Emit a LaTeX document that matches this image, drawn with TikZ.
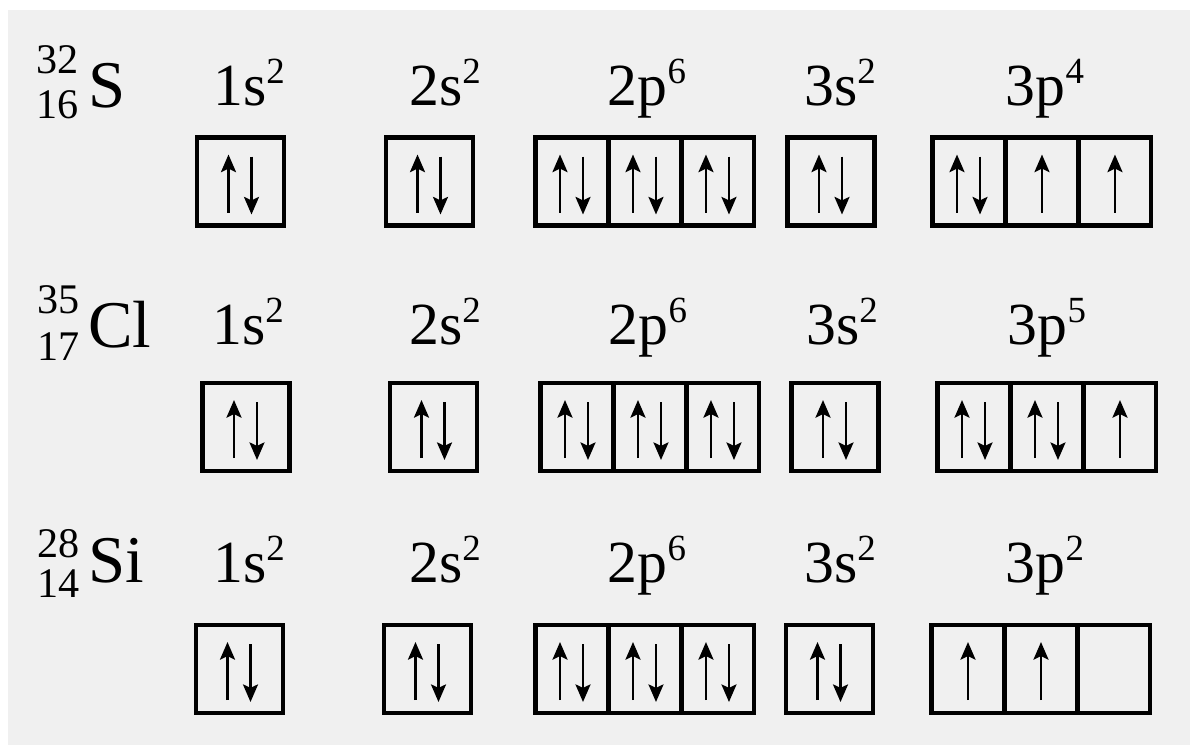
\documentclass[tikz,border=0pt]{standalone}
\usepackage{fontspec}
\setmainfont{Liberation Serif}
\usetikzlibrary{arrows.meta,positioning}

\definecolor{paper}{HTML}{F0F0F0}

\newcommand{\orb}[2]{#1\raisebox{12pt}{\fontsize{21}{21}\selectfont #2}}
\newcommand{\spinpair}[1]{\draw[spin] ([shift={(-12,31)}]#1.center) -- ++(0,-58);
  \draw[spin] ([shift={(11,-25)}]#1.center) -- ++(0,58);}
\newcommand{\spinup}[1]{\draw[spin] ([shift={(0,31)}]#1.center) -- ++(0,-58);}

\tikzset{
  cell/.style={draw, line width=2.3pt, minimum width=1.74cm, minimum height=1.76cm, inner sep=0pt, outer sep=0pt},
  pcell/.style={cell, minimum width=1.46cm},
  spin/.style={line width=1.6pt, -{Stealth[length=10pt,width=8.5pt,inset=2pt]}},
  orbital/.style={font=\fontsize{34}{38}\selectfont, anchor=base, inner sep=0pt},
  nuclide/.style={font=\fontsize{24}{28}\selectfont, anchor=base west, inner sep=0pt},
  element/.style={font=\fontsize{38}{42}\selectfont, anchor=base west, inner sep=0pt}
}

\begin{document}
\begin{tikzpicture}[x=0.02cm,y=-0.02cm]
\useasboundingbox (0,0) rectangle (1200,752);
\fill[white] (0,0) rectangle (1200,752);
\fill[paper] (8,10) rectangle (1190,745);

% sulfur
\node[nuclide] (Smass) at (36,73) {32};
\node[nuclide] (Snum) at (36,118) {16};
\node[element] (Ssym) at (88,107) {S};
\node[orbital] (Sl1s) at (249,105) {\orb{1s}{2}};
\node[orbital] (Sl2s) at (445,105) {\orb{2s}{2}};
\node[orbital] (Sl2p) at (647,105) {\orb{2p}{6}};
\node[orbital] (Sl3s) at (840,105) {\orb{3s}{2}};
\node[orbital] (Sl3p) at (1045,105) {\orb{3p}{4}};

\node[cell] (S1s) at (240.5,181.5) {};
\node[cell] (S2s) at (429.5,181.5) {};
\node[pcell] (S2pa) at (572,181.5) {};
\node[pcell, right=0pt of S2pa] (S2pb) {};
\node[pcell, right=0pt of S2pb] (S2pc) {};
\node[cell] (S3s) at (831,181.5) {};
\node[pcell] (S3pa) at (969,181.5) {};
\node[pcell, right=0pt of S3pa] (S3pb) {};
\node[pcell, right=0pt of S3pb] (S3pc) {};

\foreach \c in {S1s,S2s,S2pa,S2pb,S2pc,S3s,S3pa} {\spinpair{\c}}
\spinup{S3pb}
\spinup{S3pc}

% chlorine
\node[nuclide] (Clmass) at (37,313) {35};
\node[nuclide] (Clnum) at (37,360) {17};
\node[element] (Clsym) at (88,347) {Cl};
\node[orbital] (Cll1s) at (248,344) {\orb{1s}{2}};
\node[orbital] (Cll2s) at (445,344) {\orb{2s}{2}};
\node[orbital] (Cll2p) at (648,344) {\orb{2p}{6}};
\node[orbital] (Cll3s) at (842,344) {\orb{3s}{2}};
\node[orbital] (Cll3p) at (1047,344) {\orb{3p}{5}};

\node[cell] (Cl1s) at (246,427) {};
\node[cell] (Cl2s) at (433.5,427) {};
\node[pcell] (Cl2pa) at (577,427) {};
\node[pcell, right=0pt of Cl2pa] (Cl2pb) {};
\node[pcell, right=0pt of Cl2pb] (Cl2pc) {};
\node[cell] (Cl3s) at (835,427) {};
\node[pcell] (Cl3pa) at (974,427) {};
\node[pcell, right=0pt of Cl3pa] (Cl3pb) {};
\node[pcell, right=0pt of Cl3pb] (Cl3pc) {};

\foreach \c in {Cl1s,Cl2s,Cl2pa,Cl2pb,Cl2pc,Cl3s,Cl3pa,Cl3pb} {\spinpair{\c}}
\spinup{Cl3pc}

% silicon
\node[nuclide] (Simass) at (37,557) {28};
\node[nuclide] (Sinum) at (37,597) {14};
\node[element] (Sisym) at (88,582) {Si};
\node[orbital] (Sil1s) at (249,582) {\orb{1s}{2}};
\node[orbital] (Sil2s) at (445,582) {\orb{2s}{2}};
\node[orbital] (Sil2p) at (647,582) {\orb{2p}{6}};
\node[orbital] (Sil3s) at (840,582) {\orb{3s}{2}};
\node[orbital] (Sil3p) at (1045,582) {\orb{3p}{2}};

\node[cell] (Si1s) at (239.5,669) {};
\node[cell] (Si2s) at (427.5,669) {};
\node[pcell] (Si2pa) at (572,669) {};
\node[pcell, right=0pt of Si2pa] (Si2pb) {};
\node[pcell, right=0pt of Si2pb] (Si2pc) {};
\node[cell] (Si3s) at (829.5,669) {};
\node[pcell] (Si3pa) at (968,669) {};
\node[pcell, right=0pt of Si3pa] (Si3pb) {};
\node[pcell, right=0pt of Si3pb] (Si3pc) {};

\foreach \c in {Si1s,Si2s,Si2pa,Si2pb,Si2pc,Si3s} {\spinpair{\c}}
\spinup{Si3pa}
\spinup{Si3pb}

\end{tikzpicture}
\end{document}
